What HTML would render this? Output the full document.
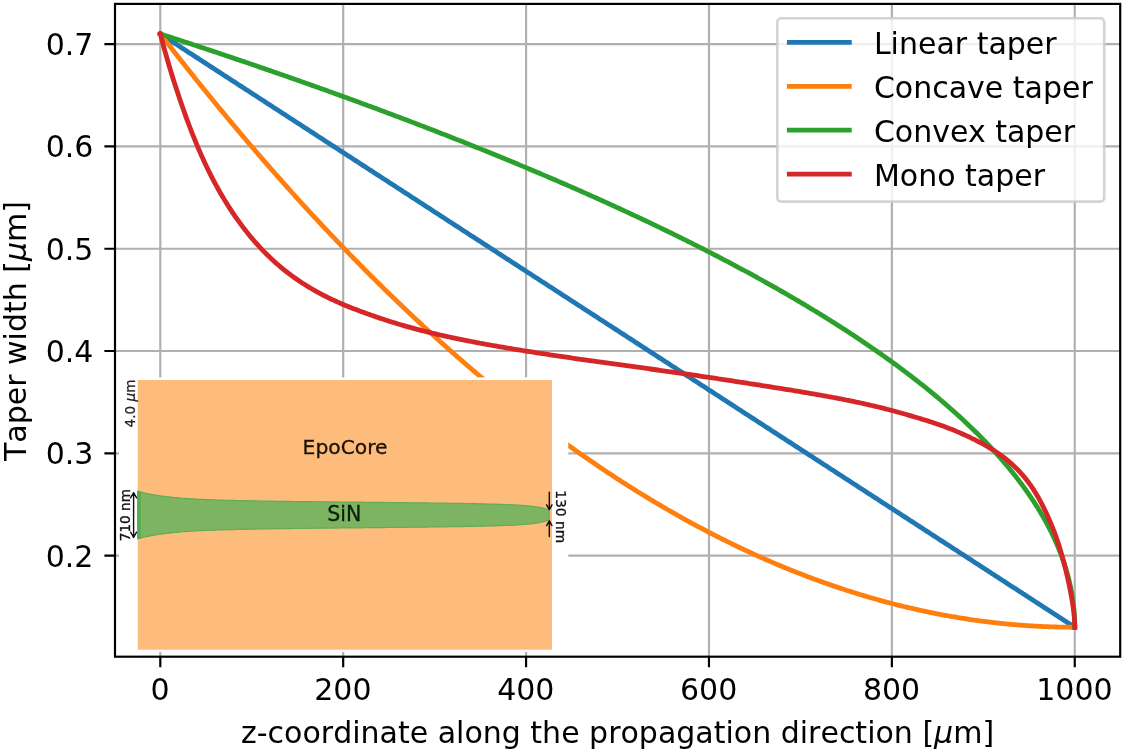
<!DOCTYPE html>
<html lang="en"><head><meta charset="utf-8"><title>Taper width profiles</title>
<style>html,body{margin:0;padding:0;background:#fff}body{width:1124px;height:752px;overflow:hidden}</style>
</head><body>
<svg width="1124" height="752" viewBox="0 0 1124 752" font-family='"DejaVu Sans", "Liberation Sans", sans-serif' style="display:block">
<rect width="1124" height="752" fill="#fff"/>
<defs><clipPath id="ax"><rect x="115.0" y="3.9" width="1005.2" height="652.8000000000001"/></clipPath></defs>
<path d="M160.30,3.9 V656.7 M343.19,3.9 V656.7 M526.08,3.9 V656.7 M708.97,3.9 V656.7 M891.86,3.9 V656.7 M1074.75,3.9 V656.7 M115.0,555.63 H1120.2 M115.0,453.33 H1120.2 M115.0,351.03 H1120.2 M115.0,248.73 H1120.2 M115.0,146.43 H1120.2 M115.0,44.13 H1120.2" stroke="#b0b0b0" stroke-width="2.18" fill="none"/>
<g clip-path="url(#ax)" fill="none" stroke-linejoin="round" stroke-linecap="square">
<path d="M160.30,33.90 L162.13,35.09 L163.96,36.27 L165.79,37.46 L167.62,38.65 L169.44,39.83 L171.27,41.02 L173.10,42.21 L174.93,43.39 L176.76,44.58 L178.59,45.77 L180.42,46.95 L182.25,48.14 L184.08,49.33 L185.90,50.51 L187.73,51.70 L189.56,52.89 L191.39,54.07 L193.22,55.26 L195.05,56.45 L196.88,57.63 L198.71,58.82 L200.54,60.01 L202.36,61.19 L204.19,62.38 L206.02,63.57 L207.85,64.75 L209.68,65.94 L211.51,67.13 L213.34,68.31 L215.17,69.50 L217.00,70.69 L218.82,71.87 L220.65,73.06 L222.48,74.25 L224.31,75.43 L226.14,76.62 L227.97,77.81 L229.80,78.99 L231.63,80.18 L233.46,81.37 L235.28,82.55 L237.11,83.74 L238.94,84.93 L240.77,86.11 L242.60,87.30 L244.43,88.49 L246.26,89.67 L248.09,90.86 L249.92,92.05 L251.75,93.23 L253.57,94.42 L255.40,95.61 L257.23,96.79 L259.06,97.98 L260.89,99.17 L262.72,100.35 L264.55,101.54 L266.38,102.73 L268.21,103.91 L270.03,105.10 L271.86,106.29 L273.69,107.47 L275.52,108.66 L277.35,109.85 L279.18,111.03 L281.01,112.22 L282.84,113.41 L284.67,114.59 L286.49,115.78 L288.32,116.97 L290.15,118.15 L291.98,119.34 L293.81,120.53 L295.64,121.71 L297.47,122.90 L299.30,124.09 L301.13,125.27 L302.95,126.46 L304.78,127.65 L306.61,128.83 L308.44,130.02 L310.27,131.21 L312.10,132.39 L313.93,133.58 L315.76,134.77 L317.59,135.95 L319.41,137.14 L321.24,138.33 L323.07,139.51 L324.90,140.70 L326.73,141.89 L328.56,143.07 L330.39,144.26 L332.22,145.45 L334.05,146.63 L335.87,147.82 L337.70,149.01 L339.53,150.19 L341.36,151.38 L343.19,152.57 L345.02,153.75 L346.85,154.94 L348.68,156.13 L350.51,157.31 L352.33,158.50 L354.16,159.69 L355.99,160.87 L357.82,162.06 L359.65,163.25 L361.48,164.43 L363.31,165.62 L365.14,166.81 L366.97,167.99 L368.79,169.18 L370.62,170.37 L372.45,171.55 L374.28,172.74 L376.11,173.93 L377.94,175.11 L379.77,176.30 L381.60,177.49 L383.43,178.67 L385.25,179.86 L387.08,181.05 L388.91,182.24 L390.74,183.42 L392.57,184.61 L394.40,185.80 L396.23,186.98 L398.06,188.17 L399.89,189.36 L401.71,190.54 L403.54,191.73 L405.37,192.92 L407.20,194.10 L409.03,195.29 L410.86,196.48 L412.69,197.66 L414.52,198.85 L416.35,200.04 L418.17,201.22 L420.00,202.41 L421.83,203.60 L423.66,204.78 L425.49,205.97 L427.32,207.16 L429.15,208.34 L430.98,209.53 L432.81,210.72 L434.63,211.90 L436.46,213.09 L438.29,214.28 L440.12,215.46 L441.95,216.65 L443.78,217.84 L445.61,219.02 L447.44,220.21 L449.27,221.40 L451.10,222.58 L452.92,223.77 L454.75,224.96 L456.58,226.14 L458.41,227.33 L460.24,228.52 L462.07,229.70 L463.90,230.89 L465.73,232.08 L467.56,233.26 L469.38,234.45 L471.21,235.64 L473.04,236.82 L474.87,238.01 L476.70,239.20 L478.53,240.38 L480.36,241.57 L482.19,242.76 L484.02,243.94 L485.84,245.13 L487.67,246.32 L489.50,247.50 L491.33,248.69 L493.16,249.88 L494.99,251.06 L496.82,252.25 L498.65,253.44 L500.48,254.62 L502.30,255.81 L504.13,257.00 L505.96,258.18 L507.79,259.37 L509.62,260.56 L511.45,261.74 L513.28,262.93 L515.11,264.12 L516.94,265.30 L518.76,266.49 L520.59,267.68 L522.42,268.86 L524.25,270.05 L526.08,271.24 L527.91,272.42 L529.74,273.61 L531.57,274.80 L533.40,275.98 L535.22,277.17 L537.05,278.36 L538.88,279.54 L540.71,280.73 L542.54,281.92 L544.37,283.10 L546.20,284.29 L548.03,285.48 L549.86,286.66 L551.68,287.85 L553.51,289.04 L555.34,290.22 L557.17,291.41 L559.00,292.60 L560.83,293.78 L562.66,294.97 L564.49,296.16 L566.32,297.34 L568.14,298.53 L569.97,299.72 L571.80,300.90 L573.63,302.09 L575.46,303.28 L577.29,304.46 L579.12,305.65 L580.95,306.84 L582.78,308.02 L584.60,309.21 L586.43,310.40 L588.26,311.58 L590.09,312.77 L591.92,313.96 L593.75,315.14 L595.58,316.33 L597.41,317.52 L599.24,318.70 L601.06,319.89 L602.89,321.08 L604.72,322.26 L606.55,323.45 L608.38,324.64 L610.21,325.82 L612.04,327.01 L613.87,328.20 L615.70,329.38 L617.52,330.57 L619.35,331.76 L621.18,332.94 L623.01,334.13 L624.84,335.32 L626.67,336.50 L628.50,337.69 L630.33,338.88 L632.16,340.06 L633.99,341.25 L635.81,342.44 L637.64,343.62 L639.47,344.81 L641.30,346.00 L643.13,347.18 L644.96,348.37 L646.79,349.56 L648.62,350.74 L650.45,351.93 L652.27,353.12 L654.10,354.30 L655.93,355.49 L657.76,356.68 L659.59,357.86 L661.42,359.05 L663.25,360.24 L665.08,361.42 L666.91,362.61 L668.73,363.80 L670.56,364.98 L672.39,366.17 L674.22,367.36 L676.05,368.54 L677.88,369.73 L679.71,370.92 L681.54,372.10 L683.37,373.29 L685.19,374.48 L687.02,375.66 L688.85,376.85 L690.68,378.04 L692.51,379.22 L694.34,380.41 L696.17,381.60 L698.00,382.78 L699.83,383.97 L701.65,385.16 L703.48,386.34 L705.31,387.53 L707.14,388.72 L708.97,389.90 L710.80,391.09 L712.63,392.28 L714.46,393.46 L716.29,394.65 L718.11,395.84 L719.94,397.02 L721.77,398.21 L723.60,399.40 L725.43,400.58 L727.26,401.77 L729.09,402.96 L730.92,404.14 L732.75,405.33 L734.57,406.52 L736.40,407.70 L738.23,408.89 L740.06,410.08 L741.89,411.26 L743.72,412.45 L745.55,413.64 L747.38,414.82 L749.21,416.01 L751.03,417.20 L752.86,418.38 L754.69,419.57 L756.52,420.76 L758.35,421.94 L760.18,423.13 L762.01,424.32 L763.84,425.50 L765.67,426.69 L767.49,427.88 L769.32,429.06 L771.15,430.25 L772.98,431.44 L774.81,432.62 L776.64,433.81 L778.47,435.00 L780.30,436.18 L782.13,437.37 L783.95,438.56 L785.78,439.74 L787.61,440.93 L789.44,442.12 L791.27,443.30 L793.10,444.49 L794.93,445.68 L796.76,446.86 L798.59,448.05 L800.41,449.24 L802.24,450.42 L804.07,451.61 L805.90,452.80 L807.73,453.98 L809.56,455.17 L811.39,456.36 L813.22,457.54 L815.05,458.73 L816.88,459.92 L818.70,461.10 L820.53,462.29 L822.36,463.48 L824.19,464.66 L826.02,465.85 L827.85,467.04 L829.68,468.22 L831.51,469.41 L833.34,470.60 L835.16,471.78 L836.99,472.97 L838.82,474.16 L840.65,475.34 L842.48,476.53 L844.31,477.72 L846.14,478.90 L847.97,480.09 L849.80,481.28 L851.62,482.47 L853.45,483.65 L855.28,484.84 L857.11,486.03 L858.94,487.21 L860.77,488.40 L862.60,489.59 L864.43,490.77 L866.26,491.96 L868.08,493.15 L869.91,494.33 L871.74,495.52 L873.57,496.71 L875.40,497.89 L877.23,499.08 L879.06,500.27 L880.89,501.45 L882.72,502.64 L884.54,503.83 L886.37,505.01 L888.20,506.20 L890.03,507.39 L891.86,508.57 L893.69,509.76 L895.52,510.95 L897.35,512.13 L899.18,513.32 L901.00,514.51 L902.83,515.69 L904.66,516.88 L906.49,518.07 L908.32,519.25 L910.15,520.44 L911.98,521.63 L913.81,522.81 L915.64,524.00 L917.46,525.19 L919.29,526.37 L921.12,527.56 L922.95,528.75 L924.78,529.93 L926.61,531.12 L928.44,532.31 L930.27,533.49 L932.10,534.68 L933.92,535.87 L935.75,537.05 L937.58,538.24 L939.41,539.43 L941.24,540.61 L943.07,541.80 L944.90,542.99 L946.73,544.17 L948.56,545.36 L950.38,546.55 L952.21,547.73 L954.04,548.92 L955.87,550.11 L957.70,551.29 L959.53,552.48 L961.36,553.67 L963.19,554.85 L965.02,556.04 L966.84,557.23 L968.67,558.41 L970.50,559.60 L972.33,560.79 L974.16,561.97 L975.99,563.16 L977.82,564.35 L979.65,565.53 L981.48,566.72 L983.31,567.91 L983.76,568.20 L984.22,568.50 L984.67,568.79 L985.13,569.09 L985.58,569.38 L986.03,569.68 L986.49,569.97 L986.94,570.26 L987.38,570.55 L987.83,570.84 L988.28,571.13 L988.72,571.42 L989.17,571.71 L989.61,572.00 L990.05,572.28 L990.49,572.57 L990.93,572.85 L991.37,573.14 L991.81,573.42 L992.24,573.71 L992.68,573.99 L993.11,574.27 L993.54,574.55 L993.98,574.83 L994.41,575.11 L994.83,575.39 L995.26,575.66 L995.69,575.94 L996.11,576.22 L996.54,576.49 L996.96,576.77 L997.38,577.04 L997.81,577.31 L998.23,577.59 L998.64,577.86 L999.06,578.13 L999.48,578.40 L999.89,578.67 L1000.31,578.94 L1000.72,579.21 L1001.13,579.47 L1001.54,579.74 L1001.95,580.01 L1002.36,580.27 L1002.77,580.53 L1003.17,580.80 L1003.58,581.06 L1003.98,581.32 L1004.39,581.58 L1004.79,581.84 L1005.19,582.10 L1005.59,582.36 L1005.99,582.62 L1006.38,582.88 L1006.78,583.14 L1007.17,583.39 L1007.57,583.65 L1007.96,583.90 L1008.35,584.16 L1008.74,584.41 L1009.13,584.66 L1009.52,584.91 L1009.90,585.16 L1010.29,585.41 L1010.67,585.66 L1011.06,585.91 L1011.44,586.16 L1011.82,586.41 L1012.20,586.65 L1012.58,586.90 L1012.95,587.14 L1013.33,587.39 L1013.71,587.63 L1014.08,587.87 L1014.45,588.12 L1014.82,588.36 L1015.19,588.60 L1015.56,588.84 L1015.93,589.08 L1016.30,589.31 L1016.66,589.55 L1017.03,589.79 L1017.39,590.02 L1017.76,590.26 L1018.12,590.49 L1018.48,590.73 L1018.84,590.96 L1019.19,591.19 L1019.55,591.42 L1019.91,591.65 L1020.26,591.88 L1020.61,592.11 L1020.97,592.34 L1021.32,592.57 L1021.67,592.80 L1022.01,593.02 L1022.36,593.25 L1022.71,593.47 L1023.05,593.70 L1023.40,593.92 L1023.74,594.14 L1024.08,594.36 L1024.42,594.59 L1024.76,594.81 L1025.10,595.03 L1025.44,595.24 L1025.77,595.46 L1026.11,595.68 L1026.44,595.90 L1026.78,596.11 L1027.11,596.33 L1027.44,596.54 L1027.77,596.75 L1028.09,596.97 L1028.42,597.18 L1028.75,597.39 L1029.07,597.60 L1029.39,597.81 L1029.72,598.02 L1030.04,598.23 L1030.36,598.44 L1030.68,598.64 L1030.99,598.85 L1031.31,599.05 L1031.63,599.26 L1031.94,599.46 L1032.25,599.67 L1032.57,599.87 L1032.88,600.07 L1033.19,600.27 L1033.49,600.47 L1033.80,600.67 L1034.11,600.87 L1034.41,601.07 L1034.72,601.26 L1035.02,601.46 L1035.32,601.66 L1035.62,601.85 L1035.92,602.05 L1036.22,602.24 L1036.52,602.43 L1036.81,602.62 L1037.11,602.81 L1037.40,603.01 L1037.69,603.19 L1037.98,603.38 L1038.27,603.57 L1038.56,603.76 L1038.85,603.95 L1039.14,604.13 L1039.42,604.32 L1039.71,604.50 L1039.99,604.69 L1040.27,604.87 L1040.55,605.05 L1040.83,605.23 L1041.11,605.41 L1041.39,605.59 L1041.66,605.77 L1041.94,605.95 L1042.21,606.13 L1042.49,606.31 L1042.76,606.48 L1043.03,606.66 L1043.30,606.83 L1043.57,607.01 L1043.83,607.18 L1044.10,607.35 L1044.36,607.52 L1044.63,607.70 L1044.89,607.87 L1045.15,608.04 L1045.41,608.20 L1045.67,608.37 L1045.93,608.54 L1046.19,608.71 L1046.44,608.87 L1046.70,609.04 L1046.95,609.20 L1047.20,609.36 L1047.45,609.53 L1047.70,609.69 L1047.95,609.85 L1048.20,610.01 L1048.44,610.17 L1048.69,610.33 L1048.93,610.49 L1049.18,610.65 L1049.42,610.80 L1049.66,610.96 L1049.90,611.12 L1050.14,611.27 L1050.37,611.42 L1050.61,611.58 L1050.85,611.73 L1051.08,611.88 L1051.31,612.03 L1051.54,612.18 L1051.77,612.33 L1052.00,612.48 L1052.23,612.63 L1052.46,612.78 L1052.68,612.92 L1052.91,613.07 L1053.13,613.21 L1053.35,613.36 L1053.58,613.50 L1053.80,613.64 L1054.01,613.79 L1054.23,613.93 L1054.45,614.07 L1054.66,614.21 L1054.88,614.35 L1055.09,614.48 L1055.30,614.62 L1055.51,614.76 L1055.72,614.89 L1055.93,615.03 L1056.14,615.16 L1056.35,615.30 L1056.55,615.43 L1056.75,615.56 L1056.96,615.70 L1057.16,615.83 L1057.36,615.96 L1057.56,616.09 L1057.76,616.21 L1057.95,616.34 L1058.15,616.47 L1058.34,616.60 L1058.54,616.72 L1058.73,616.85 L1058.92,616.97 L1059.11,617.09 L1059.30,617.22 L1059.49,617.34 L1059.68,617.46 L1059.86,617.58 L1060.05,617.70 L1060.23,617.82 L1060.41,617.94 L1060.59,618.05 L1060.77,618.17 L1060.95,618.29 L1061.13,618.40 L1061.30,618.52 L1061.48,618.63 L1061.65,618.74 L1061.83,618.85 L1062.00,618.97 L1062.17,619.08 L1062.34,619.19 L1062.51,619.30 L1062.67,619.40 L1062.84,619.51 L1063.00,619.62 L1063.17,619.72 L1063.33,619.83 L1063.49,619.94 L1063.65,620.04 L1063.81,620.14 L1063.97,620.24 L1064.13,620.35 L1064.28,620.45 L1064.44,620.55 L1064.59,620.65 L1064.74,620.75 L1064.89,620.84 L1065.04,620.94 L1065.19,621.04 L1065.34,621.13 L1065.49,621.23 L1065.63,621.32 L1065.78,621.42 L1065.92,621.51 L1066.06,621.60 L1066.20,621.69 L1066.34,621.78 L1066.48,621.87 L1066.62,621.96 L1066.75,622.05 L1066.89,622.14 L1067.02,622.22 L1067.15,622.31 L1067.29,622.40 L1067.42,622.48 L1067.54,622.56 L1067.67,622.65 L1067.80,622.73 L1067.93,622.81 L1068.05,622.89 L1068.17,622.97 L1068.30,623.05 L1068.42,623.13 L1068.54,623.21 L1068.66,623.29 L1068.77,623.36 L1068.89,623.44 L1069.01,623.51 L1069.12,623.59 L1069.23,623.66 L1069.35,623.73 L1069.46,623.81 L1069.57,623.88 L1069.67,623.95 L1069.78,624.02 L1069.89,624.09 L1069.99,624.15 L1070.10,624.22 L1070.20,624.29 L1070.30,624.35 L1070.40,624.42 L1070.50,624.48 L1070.60,624.55 L1070.70,624.61 L1070.79,624.67 L1070.89,624.73 L1070.98,624.79 L1071.07,624.85 L1071.17,624.91 L1071.26,624.97 L1071.34,625.03 L1071.43,625.09 L1071.52,625.14 L1071.60,625.20 L1071.69,625.25 L1071.77,625.31 L1071.85,625.36 L1071.94,625.41 L1072.02,625.47 L1072.09,625.52 L1072.17,625.57 L1072.25,625.62 L1072.32,625.67 L1072.40,625.71 L1072.47,625.76 L1072.54,625.81 L1072.61,625.85 L1072.68,625.90 L1072.75,625.94 L1072.82,625.99 L1072.88,626.03 L1072.95,626.07 L1073.01,626.11 L1073.08,626.15 L1073.14,626.19 L1073.20,626.23 L1073.26,626.27 L1073.31,626.31 L1073.37,626.35 L1073.43,626.38 L1073.48,626.42 L1073.53,626.45 L1073.59,626.49 L1073.64,626.52 L1073.69,626.55 L1073.74,626.58 L1073.78,626.61 L1073.83,626.64 L1073.88,626.67 L1073.92,626.70 L1073.96,626.73 L1074.01,626.76 L1074.05,626.78 L1074.09,626.81 L1074.12,626.83 L1074.16,626.86 L1074.20,626.88 L1074.23,626.90 L1074.27,626.93 L1074.30,626.95 L1074.33,626.97 L1074.36,626.99 L1074.39,627.01 L1074.42,627.03 L1074.45,627.04 L1074.47,627.06 L1074.50,627.08 L1074.52,627.09 L1074.54,627.11 L1074.56,627.12 L1074.58,627.13 L1074.60,627.14 L1074.62,627.16 L1074.64,627.17 L1074.65,627.18 L1074.67,627.19 L1074.68,627.19 L1074.69,627.20 L1074.70,627.21 L1074.71,627.22 L1074.72,627.22 L1074.73,627.23 L1074.74,627.23 L1074.74,627.23 L1074.74,627.24 L1074.75,627.24 L1074.75,627.24 L1074.75,627.24" stroke="#1f77b4" stroke-width="4.80"/>
<path d="M160.30,33.90 L162.13,36.27 L163.96,38.64 L165.79,41.00 L167.62,43.36 L169.44,45.71 L171.27,48.05 L173.10,50.40 L174.93,52.73 L176.76,55.07 L178.59,57.40 L180.42,59.72 L182.25,62.04 L184.08,64.35 L185.90,66.66 L187.73,68.97 L189.56,71.27 L191.39,73.56 L193.22,75.85 L195.05,78.14 L196.88,80.42 L198.71,82.69 L200.54,84.97 L202.36,87.23 L204.19,89.49 L206.02,91.75 L207.85,94.00 L209.68,96.25 L211.51,98.49 L213.34,100.73 L215.17,102.96 L217.00,105.19 L218.82,107.42 L220.65,109.64 L222.48,111.85 L224.31,114.06 L226.14,116.27 L227.97,118.47 L229.80,120.66 L231.63,122.85 L233.46,125.04 L235.28,127.22 L237.11,129.39 L238.94,131.57 L240.77,133.73 L242.60,135.90 L244.43,138.05 L246.26,140.21 L248.09,142.35 L249.92,144.50 L251.75,146.63 L253.57,148.77 L255.40,150.90 L257.23,153.02 L259.06,155.14 L260.89,157.26 L262.72,159.37 L264.55,161.47 L266.38,163.57 L268.21,165.67 L270.03,167.76 L271.86,169.84 L273.69,171.93 L275.52,174.00 L277.35,176.07 L279.18,178.14 L281.01,180.20 L282.84,182.26 L284.67,184.31 L286.49,186.36 L288.32,188.41 L290.15,190.44 L291.98,192.48 L293.81,194.51 L295.64,196.53 L297.47,198.55 L299.30,200.57 L301.13,202.58 L302.95,204.58 L304.78,206.58 L306.61,208.58 L308.44,210.57 L310.27,212.56 L312.10,214.54 L313.93,216.52 L315.76,218.49 L317.59,220.46 L319.41,222.42 L321.24,224.38 L323.07,226.33 L324.90,228.28 L326.73,230.22 L328.56,232.16 L330.39,234.10 L332.22,236.02 L334.05,237.95 L335.87,239.87 L337.70,241.78 L339.53,243.70 L341.36,245.60 L343.19,247.50 L345.02,249.40 L346.85,251.29 L348.68,253.18 L350.51,255.06 L352.33,256.94 L354.16,258.81 L355.99,260.68 L357.82,262.54 L359.65,264.40 L361.48,266.25 L363.31,268.10 L365.14,269.94 L366.97,271.78 L368.79,273.62 L370.62,275.45 L372.45,277.27 L374.28,279.09 L376.11,280.91 L377.94,282.72 L379.77,284.53 L381.60,286.33 L383.43,288.12 L385.25,289.92 L387.08,291.70 L388.91,293.49 L390.74,295.26 L392.57,297.04 L394.40,298.80 L396.23,300.57 L398.06,302.33 L399.89,304.08 L401.71,305.83 L403.54,307.57 L405.37,309.31 L407.20,311.05 L409.03,312.78 L410.86,314.50 L412.69,316.23 L414.52,317.94 L416.35,319.65 L418.17,321.36 L420.00,323.06 L421.83,324.76 L423.66,326.45 L425.49,328.14 L427.32,329.82 L429.15,331.50 L430.98,333.17 L432.81,334.84 L434.63,336.50 L436.46,338.16 L438.29,339.82 L440.12,341.47 L441.95,343.11 L443.78,344.75 L445.61,346.39 L447.44,348.02 L449.27,349.64 L451.10,351.26 L452.92,352.88 L454.75,354.49 L456.58,356.10 L458.41,357.70 L460.24,359.30 L462.07,360.89 L463.90,362.48 L465.73,364.06 L467.56,365.64 L469.38,367.21 L471.21,368.78 L473.04,370.35 L474.87,371.90 L476.70,373.46 L478.53,375.01 L480.36,376.55 L482.19,378.09 L484.02,379.63 L485.84,381.16 L487.67,382.69 L489.50,384.21 L491.33,385.72 L493.16,387.24 L494.99,388.74 L496.82,390.25 L498.65,391.74 L500.48,393.24 L502.30,394.72 L504.13,396.21 L505.96,397.69 L507.79,399.16 L509.62,400.63 L511.45,402.09 L513.28,403.55 L515.11,405.01 L516.94,406.46 L518.76,407.90 L520.59,409.34 L522.42,410.78 L524.25,412.21 L526.08,413.64 L527.91,415.06 L529.74,416.48 L531.57,417.89 L533.40,419.30 L535.22,420.70 L537.05,422.10 L538.88,423.49 L540.71,424.88 L542.54,426.26 L544.37,427.64 L546.20,429.01 L548.03,430.38 L549.86,431.75 L551.68,433.11 L553.51,434.46 L555.34,435.81 L557.17,437.16 L559.00,438.50 L560.83,439.84 L562.66,441.17 L564.49,442.50 L566.32,443.82 L568.14,445.13 L569.97,446.45 L571.80,447.75 L573.63,449.06 L575.46,450.36 L577.29,451.65 L579.12,452.94 L580.95,454.22 L582.78,455.50 L584.60,456.78 L586.43,458.05 L588.26,459.31 L590.09,460.57 L591.92,461.83 L593.75,463.08 L595.58,464.32 L597.41,465.56 L599.24,466.80 L601.06,468.03 L602.89,469.26 L604.72,470.48 L606.55,471.70 L608.38,472.91 L610.21,474.12 L612.04,475.32 L613.87,476.52 L615.70,477.72 L617.52,478.90 L619.35,480.09 L621.18,481.27 L623.01,482.44 L624.84,483.61 L626.67,484.78 L628.50,485.94 L630.33,487.10 L632.16,488.25 L633.99,489.39 L635.81,490.53 L637.64,491.67 L639.47,492.80 L641.30,493.93 L643.13,495.05 L644.96,496.17 L646.79,497.28 L648.62,498.39 L650.45,499.50 L652.27,500.60 L654.10,501.69 L655.93,502.78 L657.76,503.86 L659.59,504.94 L661.42,506.02 L663.25,507.09 L665.08,508.15 L666.91,509.22 L668.73,510.27 L670.56,511.32 L672.39,512.37 L674.22,513.41 L676.05,514.45 L677.88,515.48 L679.71,516.51 L681.54,517.53 L683.37,518.55 L685.19,519.56 L687.02,520.57 L688.85,521.58 L690.68,522.57 L692.51,523.57 L694.34,524.56 L696.17,525.54 L698.00,526.52 L699.83,527.50 L701.65,528.47 L703.48,529.44 L705.31,530.40 L707.14,531.35 L708.97,532.31 L710.80,533.25 L712.63,534.19 L714.46,535.13 L716.29,536.07 L718.11,536.99 L719.94,537.92 L721.77,538.83 L723.60,539.75 L725.43,540.66 L727.26,541.56 L729.09,542.46 L730.92,543.36 L732.75,544.25 L734.57,545.13 L736.40,546.01 L738.23,546.89 L740.06,547.76 L741.89,548.62 L743.72,549.49 L745.55,550.34 L747.38,551.20 L749.21,552.04 L751.03,552.89 L752.86,553.72 L754.69,554.56 L756.52,555.38 L758.35,556.21 L760.18,557.03 L762.01,557.84 L763.84,558.65 L765.67,559.45 L767.49,560.25 L769.32,561.05 L771.15,561.84 L772.98,562.63 L774.81,563.41 L776.64,564.18 L778.47,564.95 L780.30,565.72 L782.13,566.48 L783.95,567.24 L785.78,567.99 L787.61,568.74 L789.44,569.48 L791.27,570.22 L793.10,570.95 L794.93,571.68 L796.76,572.41 L798.59,573.13 L800.41,573.84 L802.24,574.55 L804.07,575.25 L805.90,575.95 L807.73,576.65 L809.56,577.34 L811.39,578.03 L813.22,578.71 L815.05,579.38 L816.88,580.06 L818.70,580.72 L820.53,581.38 L822.36,582.04 L824.19,582.69 L826.02,583.34 L827.85,583.99 L829.68,584.62 L831.51,585.26 L833.34,585.89 L835.16,586.51 L836.99,587.13 L838.82,587.74 L840.65,588.35 L842.48,588.96 L844.31,589.56 L846.14,590.16 L847.97,590.75 L849.80,591.33 L851.62,591.91 L853.45,592.49 L855.28,593.06 L857.11,593.63 L858.94,594.19 L860.77,594.75 L862.60,595.30 L864.43,595.85 L866.26,596.40 L868.08,596.93 L869.91,597.47 L871.74,598.00 L873.57,598.52 L875.40,599.04 L877.23,599.56 L879.06,600.07 L880.89,600.57 L882.72,601.07 L884.54,601.57 L886.37,602.06 L888.20,602.55 L890.03,603.03 L891.86,603.51 L893.69,603.98 L895.52,604.45 L897.35,604.91 L899.18,605.37 L901.00,605.82 L902.83,606.27 L904.66,606.71 L906.49,607.15 L908.32,607.59 L910.15,608.02 L911.98,608.44 L913.81,608.86 L915.64,609.28 L917.46,609.69 L919.29,610.09 L921.12,610.49 L922.95,610.89 L924.78,611.28 L926.61,611.67 L928.44,612.05 L930.27,612.43 L932.10,612.80 L933.92,613.17 L935.75,613.53 L937.58,613.89 L939.41,614.24 L941.24,614.59 L943.07,614.94 L944.90,615.28 L946.73,615.61 L948.56,615.94 L950.38,616.27 L952.21,616.59 L954.04,616.90 L955.87,617.21 L957.70,617.52 L959.53,617.82 L961.36,618.12 L963.19,618.41 L965.02,618.70 L966.84,618.98 L968.67,619.26 L970.50,619.53 L972.33,619.80 L974.16,620.06 L975.99,620.32 L977.82,620.57 L979.65,620.82 L981.48,621.07 L983.31,621.31 L983.76,621.37 L984.22,621.42 L984.67,621.48 L985.13,621.54 L985.58,621.60 L986.03,621.66 L986.49,621.71 L986.94,621.77 L987.38,621.82 L987.83,621.88 L988.28,621.93 L988.72,621.99 L989.17,622.04 L989.61,622.10 L990.05,622.15 L990.49,622.20 L990.93,622.25 L991.37,622.31 L991.81,622.36 L992.24,622.41 L992.68,622.46 L993.11,622.51 L993.54,622.56 L993.98,622.61 L994.41,622.66 L994.83,622.71 L995.26,622.76 L995.69,622.80 L996.11,622.85 L996.54,622.90 L996.96,622.95 L997.38,622.99 L997.81,623.04 L998.23,623.08 L998.64,623.13 L999.06,623.18 L999.48,623.22 L999.89,623.26 L1000.31,623.31 L1000.72,623.35 L1001.13,623.39 L1001.54,623.44 L1001.95,623.48 L1002.36,623.52 L1002.77,623.56 L1003.17,623.60 L1003.58,623.65 L1003.98,623.69 L1004.39,623.73 L1004.79,623.77 L1005.19,623.81 L1005.59,623.85 L1005.99,623.88 L1006.38,623.92 L1006.78,623.96 L1007.17,624.00 L1007.57,624.04 L1007.96,624.07 L1008.35,624.11 L1008.74,624.15 L1009.13,624.18 L1009.52,624.22 L1009.90,624.26 L1010.29,624.29 L1010.67,624.33 L1011.06,624.36 L1011.44,624.40 L1011.82,624.43 L1012.20,624.46 L1012.58,624.50 L1012.95,624.53 L1013.33,624.56 L1013.71,624.60 L1014.08,624.63 L1014.45,624.66 L1014.82,624.69 L1015.19,624.72 L1015.56,624.75 L1015.93,624.79 L1016.30,624.82 L1016.66,624.85 L1017.03,624.88 L1017.39,624.91 L1017.76,624.94 L1018.12,624.96 L1018.48,624.99 L1018.84,625.02 L1019.19,625.05 L1019.55,625.08 L1019.91,625.11 L1020.26,625.13 L1020.61,625.16 L1020.97,625.19 L1021.32,625.21 L1021.67,625.24 L1022.01,625.27 L1022.36,625.29 L1022.71,625.32 L1023.05,625.34 L1023.40,625.37 L1023.74,625.39 L1024.08,625.42 L1024.42,625.44 L1024.76,625.47 L1025.10,625.49 L1025.44,625.51 L1025.77,625.54 L1026.11,625.56 L1026.44,625.58 L1026.78,625.61 L1027.11,625.63 L1027.44,625.65 L1027.77,625.67 L1028.09,625.70 L1028.42,625.72 L1028.75,625.74 L1029.07,625.76 L1029.39,625.78 L1029.72,625.80 L1030.04,625.82 L1030.36,625.84 L1030.68,625.86 L1030.99,625.88 L1031.31,625.90 L1031.63,625.92 L1031.94,625.94 L1032.25,625.96 L1032.57,625.98 L1032.88,626.00 L1033.19,626.01 L1033.49,626.03 L1033.80,626.05 L1034.11,626.07 L1034.41,626.09 L1034.72,626.10 L1035.02,626.12 L1035.32,626.14 L1035.62,626.15 L1035.92,626.17 L1036.22,626.19 L1036.52,626.20 L1036.81,626.22 L1037.11,626.23 L1037.40,626.25 L1037.69,626.27 L1037.98,626.28 L1038.27,626.30 L1038.56,626.31 L1038.85,626.33 L1039.14,626.34 L1039.42,626.35 L1039.71,626.37 L1039.99,626.38 L1040.27,626.40 L1040.55,626.41 L1040.83,626.42 L1041.11,626.44 L1041.39,626.45 L1041.66,626.46 L1041.94,626.48 L1042.21,626.49 L1042.49,626.50 L1042.76,626.51 L1043.03,626.53 L1043.30,626.54 L1043.57,626.55 L1043.83,626.56 L1044.10,626.57 L1044.36,626.58 L1044.63,626.60 L1044.89,626.61 L1045.15,626.62 L1045.41,626.63 L1045.67,626.64 L1045.93,626.65 L1046.19,626.66 L1046.44,626.67 L1046.70,626.68 L1046.95,626.69 L1047.20,626.70 L1047.45,626.71 L1047.70,626.72 L1047.95,626.73 L1048.20,626.74 L1048.44,626.75 L1048.69,626.76 L1048.93,626.77 L1049.18,626.78 L1049.42,626.78 L1049.66,626.79 L1049.90,626.80 L1050.14,626.81 L1050.37,626.82 L1050.61,626.83 L1050.85,626.83 L1051.08,626.84 L1051.31,626.85 L1051.54,626.86 L1051.77,626.87 L1052.00,626.87 L1052.23,626.88 L1052.46,626.89 L1052.68,626.89 L1052.91,626.90 L1053.13,626.91 L1053.35,626.92 L1053.58,626.92 L1053.80,626.93 L1054.01,626.93 L1054.23,626.94 L1054.45,626.95 L1054.66,626.95 L1054.88,626.96 L1055.09,626.97 L1055.30,626.97 L1055.51,626.98 L1055.72,626.98 L1055.93,626.99 L1056.14,626.99 L1056.35,627.00 L1056.55,627.00 L1056.75,627.01 L1056.96,627.02 L1057.16,627.02 L1057.36,627.03 L1057.56,627.03 L1057.76,627.04 L1057.95,627.04 L1058.15,627.04 L1058.34,627.05 L1058.54,627.05 L1058.73,627.06 L1058.92,627.06 L1059.11,627.07 L1059.30,627.07 L1059.49,627.07 L1059.68,627.08 L1059.86,627.08 L1060.05,627.09 L1060.23,627.09 L1060.41,627.09 L1060.59,627.10 L1060.77,627.10 L1060.95,627.10 L1061.13,627.11 L1061.30,627.11 L1061.48,627.12 L1061.65,627.12 L1061.83,627.12 L1062.00,627.12 L1062.17,627.13 L1062.34,627.13 L1062.51,627.13 L1062.67,627.14 L1062.84,627.14 L1063.00,627.14 L1063.17,627.14 L1063.33,627.15 L1063.49,627.15 L1063.65,627.15 L1063.81,627.16 L1063.97,627.16 L1064.13,627.16 L1064.28,627.16 L1064.44,627.16 L1064.59,627.17 L1064.74,627.17 L1064.89,627.17 L1065.04,627.17 L1065.19,627.18 L1065.34,627.18 L1065.49,627.18 L1065.63,627.18 L1065.78,627.18 L1065.92,627.18 L1066.06,627.19 L1066.20,627.19 L1066.34,627.19 L1066.48,627.19 L1066.62,627.19 L1066.75,627.19 L1066.89,627.20 L1067.02,627.20 L1067.15,627.20 L1067.29,627.20 L1067.42,627.20 L1067.54,627.20 L1067.67,627.20 L1067.80,627.21 L1067.93,627.21 L1068.05,627.21 L1068.17,627.21 L1068.30,627.21 L1068.42,627.21 L1068.54,627.21 L1068.66,627.21 L1068.77,627.21 L1068.89,627.22 L1069.01,627.22 L1069.12,627.22 L1069.23,627.22 L1069.35,627.22 L1069.46,627.22 L1069.57,627.22 L1069.67,627.22 L1069.78,627.22 L1069.89,627.22 L1069.99,627.22 L1070.10,627.22 L1070.20,627.23 L1070.30,627.23 L1070.40,627.23 L1070.50,627.23 L1070.60,627.23 L1070.70,627.23 L1070.79,627.23 L1070.89,627.23 L1070.98,627.23 L1071.07,627.23 L1071.17,627.23 L1071.26,627.23 L1071.34,627.23 L1071.43,627.23 L1071.52,627.23 L1071.60,627.23 L1071.69,627.23 L1071.77,627.23 L1071.85,627.23 L1071.94,627.23 L1072.02,627.23 L1072.09,627.23 L1072.17,627.24 L1072.25,627.24 L1072.32,627.24 L1072.40,627.24 L1072.47,627.24 L1072.54,627.24 L1072.61,627.24 L1072.68,627.24 L1072.75,627.24 L1072.82,627.24 L1072.88,627.24 L1072.95,627.24 L1073.01,627.24 L1073.08,627.24 L1073.14,627.24 L1073.20,627.24 L1073.26,627.24 L1073.31,627.24 L1073.37,627.24 L1073.43,627.24 L1073.48,627.24 L1073.53,627.24 L1073.59,627.24 L1073.64,627.24 L1073.69,627.24 L1073.74,627.24 L1073.78,627.24 L1073.83,627.24 L1073.88,627.24 L1073.92,627.24 L1073.96,627.24 L1074.01,627.24 L1074.05,627.24 L1074.09,627.24 L1074.12,627.24 L1074.16,627.24 L1074.20,627.24 L1074.23,627.24 L1074.27,627.24 L1074.30,627.24 L1074.33,627.24 L1074.36,627.24 L1074.39,627.24 L1074.42,627.24 L1074.45,627.24 L1074.47,627.24 L1074.50,627.24 L1074.52,627.24 L1074.54,627.24 L1074.56,627.24 L1074.58,627.24 L1074.60,627.24 L1074.62,627.24 L1074.64,627.24 L1074.65,627.24 L1074.67,627.24 L1074.68,627.24 L1074.69,627.24 L1074.70,627.24 L1074.71,627.24 L1074.72,627.24 L1074.73,627.24 L1074.74,627.24 L1074.74,627.24 L1074.74,627.24 L1074.75,627.24 L1074.75,627.24 L1074.75,627.24" stroke="#ff7f0e" stroke-width="4.80"/>
<path d="M160.30,33.90 L162.13,34.49 L163.96,35.09 L165.79,35.68 L167.62,36.28 L169.44,36.87 L171.27,37.47 L173.10,38.07 L174.93,38.67 L176.76,39.26 L178.59,39.86 L180.42,40.46 L182.25,41.06 L184.08,41.66 L185.90,42.27 L187.73,42.87 L189.56,43.47 L191.39,44.07 L193.22,44.68 L195.05,45.28 L196.88,45.89 L198.71,46.49 L200.54,47.10 L202.36,47.71 L204.19,48.32 L206.02,48.92 L207.85,49.53 L209.68,50.14 L211.51,50.75 L213.34,51.36 L215.17,51.98 L217.00,52.59 L218.82,53.20 L220.65,53.81 L222.48,54.43 L224.31,55.04 L226.14,55.66 L227.97,56.28 L229.80,56.89 L231.63,57.51 L233.46,58.13 L235.28,58.75 L237.11,59.37 L238.94,59.99 L240.77,60.61 L242.60,61.23 L244.43,61.85 L246.26,62.48 L248.09,63.10 L249.92,63.72 L251.75,64.35 L253.57,64.97 L255.40,65.60 L257.23,66.23 L259.06,66.86 L260.89,67.48 L262.72,68.11 L264.55,68.74 L266.38,69.37 L268.21,70.01 L270.03,70.64 L271.86,71.27 L273.69,71.90 L275.52,72.54 L277.35,73.17 L279.18,73.81 L281.01,74.45 L282.84,75.08 L284.67,75.72 L286.49,76.36 L288.32,77.00 L290.15,77.64 L291.98,78.28 L293.81,78.92 L295.64,79.56 L297.47,80.21 L299.30,80.85 L301.13,81.50 L302.95,82.14 L304.78,82.79 L306.61,83.43 L308.44,84.08 L310.27,84.73 L312.10,85.38 L313.93,86.03 L315.76,86.68 L317.59,87.33 L319.41,87.99 L321.24,88.64 L323.07,89.29 L324.90,89.95 L326.73,90.60 L328.56,91.26 L330.39,91.92 L332.22,92.58 L334.05,93.23 L335.87,93.89 L337.70,94.55 L339.53,95.22 L341.36,95.88 L343.19,96.54 L345.02,97.20 L346.85,97.87 L348.68,98.53 L350.51,99.20 L352.33,99.87 L354.16,100.54 L355.99,101.20 L357.82,101.87 L359.65,102.54 L361.48,103.22 L363.31,103.89 L365.14,104.56 L366.97,105.24 L368.79,105.91 L370.62,106.59 L372.45,107.26 L374.28,107.94 L376.11,108.62 L377.94,109.30 L379.77,109.98 L381.60,110.66 L383.43,111.34 L385.25,112.02 L387.08,112.71 L388.91,113.39 L390.74,114.08 L392.57,114.76 L394.40,115.45 L396.23,116.14 L398.06,116.83 L399.89,117.52 L401.71,118.21 L403.54,118.90 L405.37,119.60 L407.20,120.29 L409.03,120.99 L410.86,121.68 L412.69,122.38 L414.52,123.08 L416.35,123.77 L418.17,124.47 L420.00,125.17 L421.83,125.88 L423.66,126.58 L425.49,127.28 L427.32,127.99 L429.15,128.69 L430.98,129.40 L432.81,130.11 L434.63,130.82 L436.46,131.53 L438.29,132.24 L440.12,132.95 L441.95,133.66 L443.78,134.37 L445.61,135.09 L447.44,135.81 L449.27,136.52 L451.10,137.24 L452.92,137.96 L454.75,138.68 L456.58,139.40 L458.41,140.12 L460.24,140.85 L462.07,141.57 L463.90,142.30 L465.73,143.02 L467.56,143.75 L469.38,144.48 L471.21,145.21 L473.04,145.94 L474.87,146.67 L476.70,147.40 L478.53,148.14 L480.36,148.87 L482.19,149.61 L484.02,150.35 L485.84,151.09 L487.67,151.83 L489.50,152.57 L491.33,153.31 L493.16,154.05 L494.99,154.80 L496.82,155.54 L498.65,156.29 L500.48,157.04 L502.30,157.79 L504.13,158.54 L505.96,159.29 L507.79,160.04 L509.62,160.80 L511.45,161.55 L513.28,162.31 L515.11,163.07 L516.94,163.83 L518.76,164.59 L520.59,165.35 L522.42,166.11 L524.25,166.88 L526.08,167.64 L527.91,168.41 L529.74,169.18 L531.57,169.94 L533.40,170.72 L535.22,171.49 L537.05,172.26 L538.88,173.03 L540.71,173.81 L542.54,174.59 L544.37,175.37 L546.20,176.15 L548.03,176.93 L549.86,177.71 L551.68,178.49 L553.51,179.28 L555.34,180.06 L557.17,180.85 L559.00,181.64 L560.83,182.43 L562.66,183.23 L564.49,184.02 L566.32,184.81 L568.14,185.61 L569.97,186.41 L571.80,187.21 L573.63,188.01 L575.46,188.81 L577.29,189.61 L579.12,190.42 L580.95,191.23 L582.78,192.03 L584.60,192.84 L586.43,193.65 L588.26,194.47 L590.09,195.28 L591.92,196.10 L593.75,196.92 L595.58,197.73 L597.41,198.55 L599.24,199.38 L601.06,200.20 L602.89,201.03 L604.72,201.85 L606.55,202.68 L608.38,203.51 L610.21,204.34 L612.04,205.18 L613.87,206.01 L615.70,206.85 L617.52,207.69 L619.35,208.53 L621.18,209.37 L623.01,210.21 L624.84,211.06 L626.67,211.90 L628.50,212.75 L630.33,213.60 L632.16,214.45 L633.99,215.31 L635.81,216.16 L637.64,217.02 L639.47,217.88 L641.30,218.74 L643.13,219.60 L644.96,220.47 L646.79,221.33 L648.62,222.20 L650.45,223.07 L652.27,223.94 L654.10,224.82 L655.93,225.69 L657.76,226.57 L659.59,227.45 L661.42,228.33 L663.25,229.22 L665.08,230.10 L666.91,230.99 L668.73,231.88 L670.56,232.77 L672.39,233.66 L674.22,234.56 L676.05,235.46 L677.88,236.36 L679.71,237.26 L681.54,238.16 L683.37,239.07 L685.19,239.97 L687.02,240.88 L688.85,241.80 L690.68,242.71 L692.51,243.63 L694.34,244.55 L696.17,245.47 L698.00,246.39 L699.83,247.32 L701.65,248.24 L703.48,249.17 L705.31,250.11 L707.14,251.04 L708.97,251.98 L710.80,252.92 L712.63,253.86 L714.46,254.80 L716.29,255.75 L718.11,256.70 L719.94,257.65 L721.77,258.60 L723.60,259.56 L725.43,260.52 L727.26,261.48 L729.09,262.44 L730.92,263.41 L732.75,264.38 L734.57,265.35 L736.40,266.33 L738.23,267.30 L740.06,268.28 L741.89,269.26 L743.72,270.25 L745.55,271.24 L747.38,272.23 L749.21,273.22 L751.03,274.22 L752.86,275.21 L754.69,276.22 L756.52,277.22 L758.35,278.23 L760.18,279.24 L762.01,280.25 L763.84,281.27 L765.67,282.29 L767.49,283.31 L769.32,284.33 L771.15,285.36 L772.98,286.39 L774.81,287.43 L776.64,288.46 L778.47,289.50 L780.30,290.55 L782.13,291.60 L783.95,292.65 L785.78,293.70 L787.61,294.76 L789.44,295.82 L791.27,296.88 L793.10,297.95 L794.93,299.02 L796.76,300.09 L798.59,301.17 L800.41,302.25 L802.24,303.34 L804.07,304.43 L805.90,305.52 L807.73,306.62 L809.56,307.72 L811.39,308.82 L813.22,309.93 L815.05,311.04 L816.88,312.15 L818.70,313.27 L820.53,314.40 L822.36,315.52 L824.19,316.66 L826.02,317.79 L827.85,318.93 L829.68,320.08 L831.51,321.22 L833.34,322.38 L835.16,323.53 L836.99,324.69 L838.82,325.86 L840.65,327.03 L842.48,328.21 L844.31,329.39 L846.14,330.57 L847.97,331.76 L849.80,332.95 L851.62,334.15 L853.45,335.36 L855.28,336.56 L857.11,337.78 L858.94,339.00 L860.77,340.22 L862.60,341.45 L864.43,342.68 L866.26,343.92 L868.08,345.17 L869.91,346.42 L871.74,347.68 L873.57,348.94 L875.40,350.21 L877.23,351.48 L879.06,352.76 L880.89,354.05 L882.72,355.34 L884.54,356.64 L886.37,357.94 L888.20,359.25 L890.03,360.57 L891.86,361.89 L893.69,363.22 L895.52,364.56 L897.35,365.90 L899.18,367.25 L901.00,368.61 L902.83,369.97 L904.66,371.35 L906.49,372.73 L908.32,374.11 L910.15,375.51 L911.98,376.91 L913.81,378.32 L915.64,379.74 L917.46,381.16 L919.29,382.60 L921.12,384.04 L922.95,385.49 L924.78,386.96 L926.61,388.43 L928.44,389.90 L930.27,391.39 L932.10,392.89 L933.92,394.40 L935.75,395.91 L937.58,397.44 L939.41,398.98 L941.24,400.53 L943.07,402.08 L944.90,403.65 L946.73,405.23 L948.56,406.82 L950.38,408.43 L952.21,410.04 L954.04,411.67 L955.87,413.31 L957.70,414.96 L959.53,416.63 L961.36,418.30 L963.19,420.00 L965.02,421.70 L966.84,423.42 L968.67,425.16 L970.50,426.91 L972.33,428.67 L974.16,430.45 L975.99,432.25 L977.82,434.06 L979.65,435.89 L981.48,437.74 L983.31,439.61 L983.76,440.08 L984.22,440.55 L984.67,441.02 L985.13,441.49 L985.58,441.96 L986.03,442.43 L986.49,442.90 L986.94,443.37 L987.38,443.84 L987.83,444.31 L988.28,444.78 L988.72,445.25 L989.17,445.72 L989.61,446.19 L990.05,446.66 L990.49,447.13 L990.93,447.60 L991.37,448.07 L991.81,448.54 L992.24,449.01 L992.68,449.48 L993.11,449.95 L993.54,450.43 L993.98,450.90 L994.41,451.37 L994.83,451.84 L995.26,452.31 L995.69,452.78 L996.11,453.25 L996.54,453.72 L996.96,454.19 L997.38,454.66 L997.81,455.13 L998.23,455.60 L998.64,456.07 L999.06,456.54 L999.48,457.01 L999.89,457.48 L1000.31,457.95 L1000.72,458.42 L1001.13,458.89 L1001.54,459.36 L1001.95,459.83 L1002.36,460.30 L1002.77,460.77 L1003.17,461.24 L1003.58,461.71 L1003.98,462.18 L1004.39,462.65 L1004.79,463.12 L1005.19,463.59 L1005.59,464.06 L1005.99,464.53 L1006.38,465.00 L1006.78,465.47 L1007.17,465.94 L1007.57,466.41 L1007.96,466.88 L1008.35,467.35 L1008.74,467.82 L1009.13,468.29 L1009.52,468.77 L1009.90,469.24 L1010.29,469.71 L1010.67,470.18 L1011.06,470.65 L1011.44,471.12 L1011.82,471.59 L1012.20,472.06 L1012.58,472.53 L1012.95,473.00 L1013.33,473.47 L1013.71,473.94 L1014.08,474.41 L1014.45,474.88 L1014.82,475.35 L1015.19,475.82 L1015.56,476.29 L1015.93,476.76 L1016.30,477.23 L1016.66,477.70 L1017.03,478.17 L1017.39,478.64 L1017.76,479.11 L1018.12,479.58 L1018.48,480.05 L1018.84,480.52 L1019.19,480.99 L1019.55,481.46 L1019.91,481.93 L1020.26,482.40 L1020.61,482.87 L1020.97,483.34 L1021.32,483.81 L1021.67,484.28 L1022.01,484.75 L1022.36,485.22 L1022.71,485.69 L1023.05,486.16 L1023.40,486.63 L1023.74,487.10 L1024.08,487.58 L1024.42,488.05 L1024.76,488.52 L1025.10,488.99 L1025.44,489.46 L1025.77,489.93 L1026.11,490.40 L1026.44,490.87 L1026.78,491.34 L1027.11,491.81 L1027.44,492.28 L1027.77,492.75 L1028.09,493.22 L1028.42,493.69 L1028.75,494.16 L1029.07,494.63 L1029.39,495.10 L1029.72,495.57 L1030.04,496.04 L1030.36,496.51 L1030.68,496.98 L1030.99,497.45 L1031.31,497.92 L1031.63,498.39 L1031.94,498.86 L1032.25,499.33 L1032.57,499.80 L1032.88,500.27 L1033.19,500.74 L1033.49,501.21 L1033.80,501.68 L1034.11,502.15 L1034.41,502.62 L1034.72,503.09 L1035.02,503.56 L1035.32,504.03 L1035.62,504.50 L1035.92,504.97 L1036.22,505.44 L1036.52,505.91 L1036.81,506.39 L1037.11,506.86 L1037.40,507.33 L1037.69,507.80 L1037.98,508.27 L1038.27,508.74 L1038.56,509.21 L1038.85,509.68 L1039.14,510.15 L1039.42,510.62 L1039.71,511.09 L1039.99,511.56 L1040.27,512.03 L1040.55,512.50 L1040.83,512.97 L1041.11,513.44 L1041.39,513.91 L1041.66,514.38 L1041.94,514.85 L1042.21,515.32 L1042.49,515.79 L1042.76,516.26 L1043.03,516.73 L1043.30,517.20 L1043.57,517.67 L1043.83,518.14 L1044.10,518.61 L1044.36,519.08 L1044.63,519.55 L1044.89,520.02 L1045.15,520.49 L1045.41,520.96 L1045.67,521.43 L1045.93,521.90 L1046.19,522.37 L1046.44,522.84 L1046.70,523.31 L1046.95,523.78 L1047.20,524.25 L1047.45,524.73 L1047.70,525.20 L1047.95,525.67 L1048.20,526.14 L1048.44,526.61 L1048.69,527.08 L1048.93,527.55 L1049.18,528.02 L1049.42,528.49 L1049.66,528.96 L1049.90,529.43 L1050.14,529.90 L1050.37,530.37 L1050.61,530.84 L1050.85,531.31 L1051.08,531.78 L1051.31,532.25 L1051.54,532.72 L1051.77,533.19 L1052.00,533.66 L1052.23,534.13 L1052.46,534.60 L1052.68,535.07 L1052.91,535.54 L1053.13,536.01 L1053.35,536.48 L1053.58,536.95 L1053.80,537.42 L1054.01,537.89 L1054.23,538.36 L1054.45,538.83 L1054.66,539.30 L1054.88,539.77 L1055.09,540.24 L1055.30,540.71 L1055.51,541.18 L1055.72,541.65 L1055.93,542.12 L1056.14,542.59 L1056.35,543.06 L1056.55,543.54 L1056.75,544.01 L1056.96,544.48 L1057.16,544.95 L1057.36,545.42 L1057.56,545.89 L1057.76,546.36 L1057.95,546.83 L1058.15,547.30 L1058.34,547.77 L1058.54,548.24 L1058.73,548.71 L1058.92,549.18 L1059.11,549.65 L1059.30,550.12 L1059.49,550.59 L1059.68,551.06 L1059.86,551.53 L1060.05,552.00 L1060.23,552.47 L1060.41,552.94 L1060.59,553.41 L1060.77,553.88 L1060.95,554.35 L1061.13,554.82 L1061.30,555.29 L1061.48,555.76 L1061.65,556.23 L1061.83,556.70 L1062.00,557.17 L1062.17,557.64 L1062.34,558.11 L1062.51,558.58 L1062.67,559.05 L1062.84,559.52 L1063.00,559.99 L1063.17,560.46 L1063.33,560.93 L1063.49,561.40 L1063.65,561.87 L1063.81,562.35 L1063.97,562.82 L1064.13,563.29 L1064.28,563.76 L1064.44,564.23 L1064.59,564.70 L1064.74,565.17 L1064.89,565.64 L1065.04,566.11 L1065.19,566.58 L1065.34,567.05 L1065.49,567.52 L1065.63,567.99 L1065.78,568.46 L1065.92,568.93 L1066.06,569.40 L1066.20,569.87 L1066.34,570.34 L1066.48,570.81 L1066.62,571.28 L1066.75,571.75 L1066.89,572.22 L1067.02,572.69 L1067.15,573.16 L1067.29,573.63 L1067.42,574.10 L1067.54,574.57 L1067.67,575.04 L1067.80,575.51 L1067.93,575.98 L1068.05,576.45 L1068.17,576.92 L1068.30,577.39 L1068.42,577.86 L1068.54,578.33 L1068.66,578.80 L1068.77,579.27 L1068.89,579.74 L1069.01,580.21 L1069.12,580.69 L1069.23,581.16 L1069.35,581.63 L1069.46,582.10 L1069.57,582.57 L1069.67,583.04 L1069.78,583.51 L1069.89,583.98 L1069.99,584.45 L1070.10,584.92 L1070.20,585.39 L1070.30,585.86 L1070.40,586.33 L1070.50,586.80 L1070.60,587.27 L1070.70,587.74 L1070.79,588.21 L1070.89,588.68 L1070.98,589.15 L1071.07,589.62 L1071.17,590.09 L1071.26,590.56 L1071.34,591.03 L1071.43,591.50 L1071.52,591.97 L1071.60,592.44 L1071.69,592.91 L1071.77,593.38 L1071.85,593.85 L1071.94,594.32 L1072.02,594.79 L1072.09,595.26 L1072.17,595.73 L1072.25,596.20 L1072.32,596.67 L1072.40,597.14 L1072.47,597.61 L1072.54,598.08 L1072.61,598.55 L1072.68,599.02 L1072.75,599.50 L1072.82,599.97 L1072.88,600.44 L1072.95,600.91 L1073.01,601.38 L1073.08,601.85 L1073.14,602.32 L1073.20,602.79 L1073.26,603.26 L1073.31,603.73 L1073.37,604.20 L1073.43,604.67 L1073.48,605.14 L1073.53,605.61 L1073.59,606.08 L1073.64,606.55 L1073.69,607.02 L1073.74,607.49 L1073.78,607.96 L1073.83,608.43 L1073.88,608.90 L1073.92,609.37 L1073.96,609.84 L1074.01,610.31 L1074.05,610.78 L1074.09,611.25 L1074.12,611.72 L1074.16,612.19 L1074.20,612.66 L1074.23,613.13 L1074.27,613.60 L1074.30,614.07 L1074.33,614.54 L1074.36,615.01 L1074.39,615.48 L1074.42,615.95 L1074.45,616.42 L1074.47,616.89 L1074.50,617.36 L1074.52,617.83 L1074.54,618.31 L1074.56,618.78 L1074.58,619.25 L1074.60,619.72 L1074.62,620.19 L1074.64,620.66 L1074.65,621.13 L1074.67,621.60 L1074.68,622.07 L1074.69,622.54 L1074.70,623.01 L1074.71,623.48 L1074.72,623.95 L1074.73,624.42 L1074.74,624.89 L1074.74,625.36 L1074.74,625.83 L1074.75,626.30 L1074.75,626.77 L1074.75,627.24" stroke="#2ca02c" stroke-width="4.80"/>
<path d="M160.30,33.89 L162.13,40.86 L163.96,47.61 L165.79,54.16 L167.62,60.53 L169.44,66.73 L171.27,72.78 L173.10,78.67 L174.93,84.44 L176.76,90.08 L178.59,95.60 L180.42,101.02 L182.25,106.33 L184.08,111.53 L185.90,116.63 L187.73,121.61 L189.56,126.49 L191.39,131.25 L193.22,135.90 L195.05,140.44 L196.88,144.87 L198.71,149.19 L200.54,153.41 L202.36,157.52 L204.19,161.53 L206.02,165.45 L207.85,169.26 L209.68,172.98 L211.51,176.61 L213.34,180.15 L215.17,183.60 L217.00,186.97 L218.82,190.25 L220.65,193.46 L222.48,196.58 L224.31,199.63 L226.14,202.61 L227.97,205.51 L229.80,208.36 L231.63,211.14 L233.46,213.86 L235.28,216.53 L237.11,219.13 L238.94,221.69 L240.77,224.19 L242.60,226.63 L244.43,229.03 L246.26,231.37 L248.09,233.66 L249.92,235.91 L251.75,238.10 L253.57,240.25 L255.40,242.35 L257.23,244.40 L259.06,246.41 L260.89,248.38 L262.72,250.30 L264.55,252.18 L266.38,254.01 L268.21,255.81 L270.03,257.56 L271.86,259.28 L273.69,260.96 L275.52,262.61 L277.35,264.21 L279.18,265.79 L281.01,267.33 L282.84,268.83 L284.67,270.31 L286.49,271.75 L288.32,273.16 L290.15,274.54 L291.98,275.89 L293.81,277.21 L295.64,278.51 L297.47,279.77 L299.30,281.02 L301.13,282.23 L302.95,283.42 L304.78,284.59 L306.61,285.73 L308.44,286.85 L310.27,287.95 L312.10,289.03 L313.93,290.08 L315.76,291.12 L317.59,292.13 L319.41,293.13 L321.24,294.10 L323.07,295.06 L324.90,296.00 L326.73,296.93 L328.56,297.83 L330.39,298.72 L332.22,299.59 L334.05,300.44 L335.87,301.28 L337.70,302.09 L339.53,302.90 L341.36,303.69 L343.19,304.47 L345.02,305.23 L346.85,305.98 L348.68,306.72 L350.51,307.46 L352.33,308.18 L354.16,308.89 L355.99,309.59 L357.82,310.29 L359.65,310.98 L361.48,311.66 L363.31,312.33 L365.14,313.00 L366.97,313.66 L368.79,314.31 L370.62,314.96 L372.45,315.60 L374.28,316.24 L376.11,316.87 L377.94,317.49 L379.77,318.11 L381.60,318.72 L383.43,319.33 L385.25,319.93 L387.08,320.52 L388.91,321.11 L390.74,321.69 L392.57,322.26 L394.40,322.83 L396.23,323.39 L398.06,323.95 L399.89,324.50 L401.71,325.04 L403.54,325.57 L405.37,326.10 L407.20,326.62 L409.03,327.14 L410.86,327.64 L412.69,328.15 L414.52,328.64 L416.35,329.13 L418.17,329.61 L420.00,330.09 L421.83,330.56 L423.66,331.03 L425.49,331.49 L427.32,331.94 L429.15,332.39 L430.98,332.83 L432.81,333.27 L434.63,333.70 L436.46,334.13 L438.29,334.56 L440.12,334.98 L441.95,335.39 L443.78,335.80 L445.61,336.21 L447.44,336.61 L449.27,337.01 L451.10,337.41 L452.92,337.80 L454.75,338.18 L456.58,338.56 L458.41,338.94 L460.24,339.32 L462.07,339.69 L463.90,340.06 L465.73,340.43 L467.56,340.79 L469.38,341.15 L471.21,341.50 L473.04,341.86 L474.87,342.21 L476.70,342.55 L478.53,342.90 L480.36,343.24 L482.19,343.58 L484.02,343.92 L485.84,344.26 L487.67,344.59 L489.50,344.92 L491.33,345.25 L493.16,345.57 L494.99,345.89 L496.82,346.22 L498.65,346.53 L500.48,346.85 L502.30,347.17 L504.13,347.48 L505.96,347.79 L507.79,348.10 L509.62,348.40 L511.45,348.71 L513.28,349.01 L515.11,349.31 L516.94,349.61 L518.76,349.91 L520.59,350.21 L522.42,350.50 L524.25,350.80 L526.08,351.09 L527.91,351.38 L529.74,351.67 L531.57,351.96 L533.40,352.24 L535.22,352.53 L537.05,352.81 L538.88,353.09 L540.71,353.37 L542.54,353.65 L544.37,353.93 L546.20,354.21 L548.03,354.49 L549.86,354.76 L551.68,355.04 L553.51,355.31 L555.34,355.58 L557.17,355.86 L559.00,356.13 L560.83,356.40 L562.66,356.66 L564.49,356.93 L566.32,357.20 L568.14,357.47 L569.97,357.73 L571.80,358.00 L573.63,358.26 L575.46,358.53 L577.29,358.79 L579.12,359.05 L580.95,359.31 L582.78,359.58 L584.60,359.84 L586.43,360.10 L588.26,360.36 L590.09,360.62 L591.92,360.88 L593.75,361.14 L595.58,361.39 L597.41,361.65 L599.24,361.91 L601.06,362.17 L602.89,362.42 L604.72,362.68 L606.55,362.93 L608.38,363.19 L610.21,363.45 L612.04,363.70 L613.87,363.95 L615.70,364.21 L617.52,364.46 L619.35,364.72 L621.18,364.97 L623.01,365.22 L624.84,365.47 L626.67,365.73 L628.50,365.98 L630.33,366.23 L632.16,366.48 L633.99,366.73 L635.81,366.99 L637.64,367.24 L639.47,367.49 L641.30,367.74 L643.13,367.99 L644.96,368.24 L646.79,368.49 L648.62,368.74 L650.45,369.00 L652.27,369.25 L654.10,369.50 L655.93,369.75 L657.76,370.00 L659.59,370.26 L661.42,370.51 L663.25,370.76 L665.08,371.02 L666.91,371.27 L668.73,371.53 L670.56,371.78 L672.39,372.04 L674.22,372.30 L676.05,372.56 L677.88,372.82 L679.71,373.08 L681.54,373.34 L683.37,373.60 L685.19,373.86 L687.02,374.13 L688.85,374.39 L690.68,374.66 L692.51,374.93 L694.34,375.20 L696.17,375.46 L698.00,375.73 L699.83,376.01 L701.65,376.28 L703.48,376.55 L705.31,376.82 L707.14,377.10 L708.97,377.37 L710.80,377.64 L712.63,377.92 L714.46,378.20 L716.29,378.47 L718.11,378.75 L719.94,379.03 L721.77,379.31 L723.60,379.58 L725.43,379.86 L727.26,380.14 L729.09,380.42 L730.92,380.70 L732.75,380.98 L734.57,381.26 L736.40,381.55 L738.23,381.83 L740.06,382.11 L741.89,382.39 L743.72,382.68 L745.55,382.96 L747.38,383.24 L749.21,383.53 L751.03,383.81 L752.86,384.10 L754.69,384.38 L756.52,384.67 L758.35,384.95 L760.18,385.24 L762.01,385.53 L763.84,385.81 L765.67,386.10 L767.49,386.39 L769.32,386.68 L771.15,386.97 L772.98,387.26 L774.81,387.55 L776.64,387.84 L778.47,388.13 L780.30,388.42 L782.13,388.72 L783.95,389.01 L785.78,389.31 L787.61,389.60 L789.44,389.90 L791.27,390.20 L793.10,390.50 L794.93,390.80 L796.76,391.11 L798.59,391.41 L800.41,391.71 L802.24,392.02 L804.07,392.33 L805.90,392.64 L807.73,392.95 L809.56,393.26 L811.39,393.57 L813.22,393.89 L815.05,394.21 L816.88,394.53 L818.70,394.85 L820.53,395.17 L822.36,395.50 L824.19,395.83 L826.02,396.16 L827.85,396.49 L829.68,396.83 L831.51,397.16 L833.34,397.51 L835.16,397.85 L836.99,398.20 L838.82,398.55 L840.65,398.90 L842.48,399.26 L844.31,399.62 L846.14,399.98 L847.97,400.35 L849.80,400.72 L851.62,401.09 L853.45,401.47 L855.28,401.85 L857.11,402.24 L858.94,402.63 L860.77,403.02 L862.60,403.42 L864.43,403.82 L866.26,404.23 L868.08,404.64 L869.91,405.06 L871.74,405.48 L873.57,405.91 L875.40,406.34 L877.23,406.78 L879.06,407.22 L880.89,407.67 L882.72,408.13 L884.54,408.59 L886.37,409.05 L888.20,409.53 L890.03,410.00 L891.86,410.49 L893.69,410.98 L895.52,411.48 L897.35,411.98 L899.18,412.48 L901.00,413.00 L902.83,413.51 L904.66,414.03 L906.49,414.55 L908.32,415.08 L910.15,415.61 L911.98,416.14 L913.81,416.68 L915.64,417.22 L917.46,417.77 L919.29,418.32 L921.12,418.87 L922.95,419.43 L924.78,420.00 L926.61,420.57 L928.44,421.15 L930.27,421.73 L932.10,422.33 L933.92,422.93 L935.75,423.54 L937.58,424.16 L939.41,424.80 L941.24,425.44 L943.07,426.10 L944.90,426.77 L946.73,427.45 L948.56,428.15 L950.38,428.87 L952.21,429.59 L954.04,430.34 L955.87,431.10 L957.70,431.87 L959.53,432.66 L961.36,433.45 L963.19,434.26 L965.02,435.09 L966.84,435.93 L968.67,436.78 L970.50,437.65 L972.33,438.54 L974.16,439.44 L975.99,440.36 L977.82,441.30 L979.65,442.25 L981.48,443.23 L983.31,444.22 L983.76,444.48 L984.22,444.73 L984.67,444.99 L985.13,445.24 L985.58,445.50 L986.03,445.75 L986.49,446.01 L986.94,446.27 L987.38,446.53 L987.83,446.79 L988.28,447.05 L988.72,447.32 L989.17,447.58 L989.61,447.84 L990.05,448.11 L990.49,448.38 L990.93,448.64 L991.37,448.91 L991.81,449.18 L992.24,449.46 L992.68,449.73 L993.11,450.00 L993.54,450.28 L993.98,450.55 L994.41,450.83 L994.83,451.11 L995.26,451.39 L995.69,451.67 L996.11,451.95 L996.54,452.23 L996.96,452.52 L997.38,452.80 L997.81,453.09 L998.23,453.38 L998.64,453.67 L999.06,453.96 L999.48,454.25 L999.89,454.55 L1000.31,454.84 L1000.72,455.14 L1001.13,455.44 L1001.54,455.74 L1001.95,456.04 L1002.36,456.34 L1002.77,456.64 L1003.17,456.95 L1003.58,457.26 L1003.98,457.56 L1004.39,457.87 L1004.79,458.19 L1005.19,458.50 L1005.59,458.81 L1005.99,459.13 L1006.38,459.45 L1006.78,459.77 L1007.17,460.09 L1007.57,460.41 L1007.96,460.73 L1008.35,461.06 L1008.74,461.38 L1009.13,461.71 L1009.52,462.04 L1009.90,462.38 L1010.29,462.71 L1010.67,463.04 L1011.06,463.38 L1011.44,463.72 L1011.82,464.06 L1012.20,464.40 L1012.58,464.75 L1012.95,465.09 L1013.33,465.44 L1013.71,465.79 L1014.08,466.14 L1014.45,466.49 L1014.82,466.85 L1015.19,467.20 L1015.56,467.56 L1015.93,467.92 L1016.30,468.29 L1016.66,468.65 L1017.03,469.02 L1017.39,469.38 L1017.76,469.75 L1018.12,470.13 L1018.48,470.50 L1018.84,470.87 L1019.19,471.25 L1019.55,471.63 L1019.91,472.01 L1020.26,472.40 L1020.61,472.78 L1020.97,473.17 L1021.32,473.56 L1021.67,473.96 L1022.01,474.35 L1022.36,474.75 L1022.71,475.15 L1023.05,475.55 L1023.40,475.95 L1023.74,476.36 L1024.08,476.77 L1024.42,477.18 L1024.76,477.59 L1025.10,478.01 L1025.44,478.42 L1025.77,478.84 L1026.11,479.26 L1026.44,479.69 L1026.78,480.12 L1027.11,480.55 L1027.44,480.98 L1027.77,481.41 L1028.09,481.85 L1028.42,482.29 L1028.75,482.73 L1029.07,483.17 L1029.39,483.62 L1029.72,484.07 L1030.04,484.52 L1030.36,484.97 L1030.68,485.43 L1030.99,485.88 L1031.31,486.34 L1031.63,486.81 L1031.94,487.27 L1032.25,487.74 L1032.57,488.21 L1032.88,488.68 L1033.19,489.15 L1033.49,489.62 L1033.80,490.10 L1034.11,490.58 L1034.41,491.06 L1034.72,491.55 L1035.02,492.03 L1035.32,492.52 L1035.62,493.01 L1035.92,493.50 L1036.22,494.00 L1036.52,494.49 L1036.81,494.99 L1037.11,495.49 L1037.40,496.00 L1037.69,496.50 L1037.98,497.01 L1038.27,497.52 L1038.56,498.03 L1038.85,498.54 L1039.14,499.05 L1039.42,499.57 L1039.71,500.09 L1039.99,500.60 L1040.27,501.12 L1040.55,501.65 L1040.83,502.17 L1041.11,502.70 L1041.39,503.22 L1041.66,503.75 L1041.94,504.28 L1042.21,504.81 L1042.49,505.34 L1042.76,505.88 L1043.03,506.41 L1043.30,506.95 L1043.57,507.49 L1043.83,508.02 L1044.10,508.56 L1044.36,509.10 L1044.63,509.64 L1044.89,510.19 L1045.15,510.73 L1045.41,511.27 L1045.67,511.82 L1045.93,512.36 L1046.19,512.91 L1046.44,513.45 L1046.70,514.00 L1046.95,514.55 L1047.20,515.10 L1047.45,515.64 L1047.70,516.19 L1047.95,516.74 L1048.20,517.29 L1048.44,517.84 L1048.69,518.39 L1048.93,518.94 L1049.18,519.50 L1049.42,520.05 L1049.66,520.60 L1049.90,521.15 L1050.14,521.71 L1050.37,522.26 L1050.61,522.82 L1050.85,523.38 L1051.08,523.93 L1051.31,524.49 L1051.54,525.05 L1051.77,525.61 L1052.00,526.17 L1052.23,526.74 L1052.46,527.30 L1052.68,527.86 L1052.91,528.43 L1053.13,529.00 L1053.35,529.57 L1053.58,530.14 L1053.80,530.71 L1054.01,531.28 L1054.23,531.86 L1054.45,532.43 L1054.66,533.01 L1054.88,533.59 L1055.09,534.17 L1055.30,534.75 L1055.51,535.34 L1055.72,535.92 L1055.93,536.51 L1056.14,537.09 L1056.35,537.68 L1056.55,538.27 L1056.75,538.86 L1056.96,539.45 L1057.16,540.04 L1057.36,540.64 L1057.56,541.23 L1057.76,541.82 L1057.95,542.42 L1058.15,543.02 L1058.34,543.61 L1058.54,544.21 L1058.73,544.81 L1058.92,545.41 L1059.11,546.01 L1059.30,546.61 L1059.49,547.21 L1059.68,547.81 L1059.86,548.41 L1060.05,549.01 L1060.23,549.62 L1060.41,550.22 L1060.59,550.82 L1060.77,551.43 L1060.95,552.03 L1061.13,552.63 L1061.30,553.24 L1061.48,553.84 L1061.65,554.45 L1061.83,555.05 L1062.00,555.66 L1062.17,556.26 L1062.34,556.87 L1062.51,557.47 L1062.67,558.08 L1062.84,558.68 L1063.00,559.28 L1063.17,559.89 L1063.33,560.49 L1063.49,561.09 L1063.65,561.70 L1063.81,562.30 L1063.97,562.90 L1064.13,563.50 L1064.28,564.10 L1064.44,564.70 L1064.59,565.30 L1064.74,565.90 L1064.89,566.49 L1065.04,567.09 L1065.19,567.69 L1065.34,568.28 L1065.49,568.87 L1065.63,569.47 L1065.78,570.06 L1065.92,570.65 L1066.06,571.23 L1066.20,571.82 L1066.34,572.41 L1066.48,572.99 L1066.62,573.57 L1066.75,574.16 L1066.89,574.74 L1067.02,575.31 L1067.15,575.89 L1067.29,576.46 L1067.42,577.04 L1067.54,577.61 L1067.67,578.18 L1067.80,578.74 L1067.93,579.31 L1068.05,579.87 L1068.17,580.43 L1068.30,580.99 L1068.42,581.55 L1068.54,582.10 L1068.66,582.66 L1068.77,583.21 L1068.89,583.75 L1069.01,584.30 L1069.12,584.84 L1069.23,585.38 L1069.35,585.92 L1069.46,586.45 L1069.57,586.99 L1069.67,587.52 L1069.78,588.05 L1069.89,588.57 L1069.99,589.10 L1070.10,589.62 L1070.20,590.14 L1070.30,590.65 L1070.40,591.17 L1070.50,591.68 L1070.60,592.18 L1070.70,592.69 L1070.79,593.19 L1070.89,593.70 L1070.98,594.19 L1071.07,594.69 L1071.17,595.18 L1071.26,595.67 L1071.34,596.16 L1071.43,596.65 L1071.52,597.13 L1071.60,597.61 L1071.69,598.09 L1071.77,598.57 L1071.85,599.04 L1071.94,599.51 L1072.02,599.98 L1072.09,600.44 L1072.17,600.90 L1072.25,601.36 L1072.32,601.82 L1072.40,602.27 L1072.47,602.73 L1072.54,603.17 L1072.61,603.62 L1072.68,604.06 L1072.75,604.50 L1072.82,604.94 L1072.88,605.38 L1072.95,605.81 L1073.01,606.24 L1073.08,606.67 L1073.14,607.09 L1073.20,607.52 L1073.26,607.94 L1073.31,608.35 L1073.37,608.77 L1073.43,609.18 L1073.48,609.59 L1073.53,610.00 L1073.59,610.41 L1073.64,610.81 L1073.69,611.22 L1073.74,611.62 L1073.78,612.02 L1073.83,612.41 L1073.88,612.81 L1073.92,613.20 L1073.96,613.59 L1074.01,613.98 L1074.05,614.37 L1074.09,614.76 L1074.12,615.14 L1074.16,615.53 L1074.20,615.91 L1074.23,616.29 L1074.27,616.67 L1074.30,617.05 L1074.33,617.42 L1074.36,617.80 L1074.39,618.17 L1074.42,618.54 L1074.45,618.92 L1074.47,619.29 L1074.50,619.66 L1074.52,620.03 L1074.54,620.39 L1074.56,620.76 L1074.58,621.13 L1074.60,621.49 L1074.62,621.86 L1074.64,622.22 L1074.65,622.58 L1074.67,622.95 L1074.68,623.31 L1074.69,623.67 L1074.70,624.03 L1074.71,624.39 L1074.72,624.75 L1074.73,625.11 L1074.74,625.47 L1074.74,625.83 L1074.74,626.19 L1074.75,626.55 L1074.75,626.91 L1074.75,627.27" stroke="#d62728" stroke-width="4.80"/>
</g>
<rect x="118.9" y="377.4" width="449.4" height="274.6" fill="#fff"/>
<rect x="137.7" y="380.0" width="414.3" height="269.70000000000005" fill="#fdbc7b"/>
<path d="M137.70,491.20 L139.76,491.76 L141.81,492.28 L143.87,492.76 L145.93,493.22 L147.99,493.66 L150.04,494.07 L152.10,494.47 L154.16,494.84 L156.22,495.18 L158.27,495.51 L160.33,495.82 L162.39,496.11 L164.45,496.38 L166.50,496.63 L168.56,496.87 L170.62,497.10 L172.68,497.31 L174.73,497.52 L176.79,497.71 L178.85,497.89 L180.91,498.06 L182.97,498.23 L185.02,498.38 L187.08,498.53 L189.14,498.67 L191.19,498.80 L193.25,498.92 L195.31,499.04 L197.37,499.15 L199.43,499.26 L201.48,499.36 L203.54,499.45 L205.60,499.54 L207.66,499.63 L209.71,499.71 L211.77,499.79 L213.83,499.86 L215.88,499.93 L217.94,500.00 L220.00,500.07 L222.06,500.13 L224.12,500.19 L226.17,500.25 L228.23,500.30 L230.29,500.36 L232.34,500.41 L234.40,500.46 L236.46,500.51 L238.52,500.56 L240.57,500.61 L242.63,500.66 L244.69,500.70 L246.75,500.75 L248.81,500.79 L250.86,500.83 L252.92,500.87 L254.98,500.91 L257.03,500.95 L259.09,500.99 L261.15,501.02 L263.21,501.06 L265.26,501.09 L267.32,501.13 L269.38,501.16 L271.44,501.19 L273.50,501.22 L275.55,501.25 L277.61,501.28 L279.67,501.31 L281.73,501.34 L283.78,501.36 L285.84,501.39 L287.90,501.42 L289.96,501.44 L292.01,501.47 L294.07,501.50 L296.13,501.52 L298.19,501.55 L300.24,501.57 L302.30,501.59 L304.36,501.62 L306.41,501.64 L308.47,501.66 L310.53,501.69 L312.59,501.71 L314.64,501.73 L316.70,501.75 L318.76,501.78 L320.82,501.80 L322.88,501.82 L324.93,501.84 L326.99,501.86 L329.05,501.88 L331.11,501.91 L333.16,501.93 L335.22,501.95 L337.28,501.97 L339.34,501.99 L341.39,502.01 L343.45,502.03 L345.51,502.05 L347.57,502.07 L349.62,502.09 L351.68,502.11 L353.74,502.13 L355.80,502.16 L357.85,502.18 L359.91,502.20 L361.97,502.22 L364.03,502.24 L366.08,502.26 L368.14,502.28 L370.20,502.30 L372.25,502.32 L374.31,502.34 L376.37,502.37 L378.43,502.39 L380.49,502.41 L382.54,502.43 L384.60,502.45 L386.66,502.48 L388.72,502.50 L390.77,502.52 L392.83,502.55 L394.89,502.57 L396.95,502.59 L399.00,502.61 L401.06,502.64 L403.12,502.66 L405.18,502.68 L407.23,502.71 L409.29,502.73 L411.35,502.75 L413.41,502.78 L415.46,502.80 L417.52,502.83 L419.58,502.85 L421.63,502.88 L423.69,502.90 L425.75,502.92 L427.81,502.95 L429.87,502.98 L431.92,503.00 L433.98,503.03 L436.04,503.05 L438.10,503.08 L440.15,503.11 L442.21,503.14 L444.27,503.17 L446.33,503.20 L448.38,503.23 L450.44,503.26 L452.50,503.29 L454.56,503.32 L456.61,503.36 L458.67,503.39 L460.73,503.43 L462.79,503.46 L464.84,503.50 L466.90,503.54 L468.96,503.58 L471.02,503.62 L473.07,503.66 L475.13,503.71 L477.19,503.75 L479.25,503.80 L481.30,503.84 L483.36,503.89 L485.42,503.94 L487.48,503.99 L489.53,504.04 L491.59,504.10 L493.65,504.15 L495.71,504.22 L497.76,504.28 L499.82,504.35 L501.88,504.42 L503.94,504.49 L505.99,504.56 L508.05,504.65 L509.09,504.69 L510.11,504.73 L511.12,504.77 L512.11,504.82 L513.09,504.86 L514.06,504.91 L515.02,504.96 L515.96,505.01 L516.89,505.06 L517.81,505.11 L518.71,505.16 L519.60,505.21 L520.48,505.27 L521.34,505.33 L522.19,505.38 L523.03,505.44 L523.85,505.50 L524.67,505.57 L525.46,505.63 L526.25,505.70 L527.02,505.77 L527.78,505.84 L528.52,505.91 L529.25,505.98 L529.97,506.06 L530.68,506.14 L531.37,506.22 L532.05,506.30 L532.72,506.38 L533.37,506.47 L534.01,506.55 L534.63,506.64 L535.25,506.73 L535.85,506.82 L536.43,506.91 L537.01,507.00 L537.57,507.09 L538.12,507.18 L538.65,507.27 L539.17,507.37 L539.68,507.46 L540.17,507.56 L540.65,507.65 L541.12,507.75 L541.58,507.85 L542.02,507.95 L542.45,508.05 L542.86,508.15 L543.27,508.25 L543.65,508.35 L544.03,508.45 L544.39,508.55 L544.74,508.65 L545.08,508.74 L545.40,508.84 L545.71,508.94 L546.01,509.03 L546.29,509.13 L546.56,509.22 L546.82,509.31 L547.06,509.39 L547.29,509.48 L547.51,509.56 L547.72,509.64 L547.91,509.72 L548.09,509.80 L548.25,509.87 L548.40,509.95 L548.54,510.02 L548.67,510.08 L548.78,510.15 L548.88,510.22 L548.96,510.28 L549.04,510.34 L549.09,510.40 L549.14,510.46 L549.17,510.52 L549.19,510.58 L549.20,510.64 L549.20,519.36 L549.19,519.42 L549.17,519.48 L549.14,519.54 L549.09,519.60 L549.04,519.66 L548.96,519.72 L548.88,519.78 L548.78,519.85 L548.67,519.92 L548.54,519.98 L548.40,520.05 L548.25,520.13 L548.09,520.20 L547.91,520.28 L547.72,520.36 L547.51,520.44 L547.29,520.52 L547.06,520.61 L546.82,520.69 L546.56,520.78 L546.29,520.87 L546.01,520.97 L545.71,521.06 L545.40,521.16 L545.08,521.26 L544.74,521.35 L544.39,521.45 L544.03,521.55 L543.65,521.65 L543.27,521.75 L542.86,521.85 L542.45,521.95 L542.02,522.05 L541.58,522.15 L541.12,522.25 L540.65,522.35 L540.17,522.44 L539.68,522.54 L539.17,522.63 L538.65,522.73 L538.12,522.82 L537.57,522.91 L537.01,523.00 L536.43,523.09 L535.85,523.18 L535.25,523.27 L534.63,523.36 L534.01,523.45 L533.37,523.53 L532.72,523.62 L532.05,523.70 L531.37,523.78 L530.68,523.86 L529.97,523.94 L529.25,524.02 L528.52,524.09 L527.78,524.16 L527.02,524.23 L526.25,524.30 L525.46,524.37 L524.67,524.43 L523.85,524.50 L523.03,524.56 L522.19,524.62 L521.34,524.67 L520.48,524.73 L519.60,524.79 L518.71,524.84 L517.81,524.89 L516.89,524.94 L515.96,524.99 L515.02,525.04 L514.06,525.09 L513.09,525.14 L512.11,525.18 L511.12,525.23 L510.11,525.27 L509.09,525.31 L508.05,525.35 L505.99,525.44 L503.94,525.51 L501.88,525.58 L499.82,525.65 L497.76,525.72 L495.71,525.78 L493.65,525.85 L491.59,525.90 L489.53,525.96 L487.48,526.01 L485.42,526.06 L483.36,526.11 L481.30,526.16 L479.25,526.20 L477.19,526.25 L475.13,526.29 L473.07,526.34 L471.02,526.38 L468.96,526.42 L466.90,526.46 L464.84,526.50 L462.79,526.54 L460.73,526.57 L458.67,526.61 L456.61,526.64 L454.56,526.68 L452.50,526.71 L450.44,526.74 L448.38,526.77 L446.33,526.80 L444.27,526.83 L442.21,526.86 L440.15,526.89 L438.10,526.92 L436.04,526.95 L433.98,526.97 L431.92,527.00 L429.87,527.02 L427.81,527.05 L425.75,527.08 L423.69,527.10 L421.63,527.12 L419.58,527.15 L417.52,527.17 L415.46,527.20 L413.41,527.22 L411.35,527.25 L409.29,527.27 L407.23,527.29 L405.18,527.32 L403.12,527.34 L401.06,527.36 L399.00,527.39 L396.95,527.41 L394.89,527.43 L392.83,527.45 L390.77,527.48 L388.72,527.50 L386.66,527.52 L384.60,527.55 L382.54,527.57 L380.49,527.59 L378.43,527.61 L376.37,527.63 L374.31,527.66 L372.25,527.68 L370.20,527.70 L368.14,527.72 L366.08,527.74 L364.03,527.76 L361.97,527.78 L359.91,527.80 L357.85,527.82 L355.80,527.84 L353.74,527.87 L351.68,527.89 L349.62,527.91 L347.57,527.93 L345.51,527.95 L343.45,527.97 L341.39,527.99 L339.34,528.01 L337.28,528.03 L335.22,528.05 L333.16,528.07 L331.11,528.09 L329.05,528.12 L326.99,528.14 L324.93,528.16 L322.88,528.18 L320.82,528.20 L318.76,528.22 L316.70,528.25 L314.64,528.27 L312.59,528.29 L310.53,528.31 L308.47,528.34 L306.41,528.36 L304.36,528.38 L302.30,528.41 L300.24,528.43 L298.19,528.45 L296.13,528.48 L294.07,528.50 L292.01,528.53 L289.96,528.56 L287.90,528.58 L285.84,528.61 L283.78,528.64 L281.73,528.66 L279.67,528.69 L277.61,528.72 L275.55,528.75 L273.50,528.78 L271.44,528.81 L269.38,528.84 L267.32,528.87 L265.26,528.91 L263.21,528.94 L261.15,528.98 L259.09,529.01 L257.03,529.05 L254.98,529.09 L252.92,529.13 L250.86,529.17 L248.81,529.21 L246.75,529.25 L244.69,529.30 L242.63,529.34 L240.57,529.39 L238.52,529.44 L236.46,529.49 L234.40,529.54 L232.34,529.59 L230.29,529.64 L228.23,529.70 L226.17,529.75 L224.12,529.81 L222.06,529.87 L220.00,529.93 L217.94,530.00 L215.88,530.07 L213.83,530.14 L211.77,530.21 L209.71,530.29 L207.66,530.37 L205.60,530.46 L203.54,530.55 L201.48,530.64 L199.43,530.74 L197.37,530.85 L195.31,530.96 L193.25,531.08 L191.19,531.20 L189.14,531.33 L187.08,531.47 L185.02,531.62 L182.97,531.77 L180.91,531.94 L178.85,532.11 L176.79,532.29 L174.73,532.48 L172.68,532.69 L170.62,532.90 L168.56,533.13 L166.50,533.37 L164.45,533.62 L162.39,533.89 L160.33,534.18 L158.27,534.49 L156.22,534.82 L154.16,535.16 L152.10,535.53 L150.04,535.93 L147.99,536.34 L145.93,536.78 L143.87,537.24 L141.81,537.72 L139.76,538.24 L137.70,538.80 Z" fill="#7db461" stroke="#63ab55" stroke-width="1.2" stroke-linejoin="round"/>
<rect x="137.7" y="491.20" width="3.0" height="47.6" fill="#52ad50"/>
<text x="345.1" y="453.5" font-size="20.3" text-anchor="middle" fill="#1a1208" stroke="#1a1208" stroke-width="0.3">EpoCore</text>
<text x="344.4" y="520.6" font-size="20.6" text-anchor="middle" fill="#0c1f0a" stroke="#0c1f0a" stroke-width="0.3">SiN</text>
<text transform="translate(135.3,427.4) rotate(-90)" font-size="13.6" fill="#222" stroke="#222" stroke-width="0.25">4.0 <tspan font-style="italic">μ</tspan>m</text>
<text transform="translate(129.8,541.2) rotate(-90)" font-size="13.6" fill="#111" stroke="#111" stroke-width="0.3">710 nm</text>
<text transform="translate(556.0,490.2) rotate(90)" font-size="13.8" fill="#111" stroke="#111" stroke-width="0.3">130 nm</text>
<path d="M133.6,492.6 V537.4 M130.6,497.8 L133.6,492.6 L136.6,497.8 M130.6,532.2 L133.6,537.4 L136.6,532.2" stroke="#140c14" stroke-width="1.4" fill="none" stroke-linecap="round" stroke-linejoin="round"/>
<path d="M549.3,492.3 V509.6 M546.5999999999999,504.8 L549.3,509.6 L552.0,504.8 M549.3,536.5 V520.8 M546.5999999999999,525.6 L549.3,520.8 L552.0,525.6" stroke="#140c14" stroke-width="1.4" fill="none" stroke-linecap="round" stroke-linejoin="round"/>
<rect x="115.0" y="3.9" width="1005.2" height="652.8000000000001" fill="none" stroke="#000" stroke-width="2.18"/>
<path d="M160.30,656.7 v10.60 M343.19,656.7 v10.60 M526.08,656.7 v10.60 M708.97,656.7 v10.60 M891.86,656.7 v10.60 M1074.75,656.7 v10.60 M115.0,555.63 h-10.60 M115.0,453.33 h-10.60 M115.0,351.03 h-10.60 M115.0,248.73 h-10.60 M115.0,146.43 h-10.60 M115.0,44.13 h-10.60" stroke="#000" stroke-width="2.18" fill="none"/>
<text x="160.00" y="700.2" font-size="30.0" text-anchor="middle">0</text>
<text x="342.89" y="700.2" font-size="30.0" text-anchor="middle">200</text>
<text x="525.78" y="700.2" font-size="30.0" text-anchor="middle">400</text>
<text x="708.67" y="700.2" font-size="30.0" text-anchor="middle">600</text>
<text x="891.56" y="700.2" font-size="30.0" text-anchor="middle">800</text>
<text x="1074.45" y="700.2" font-size="30.0" text-anchor="middle">1000</text>
<text x="93.4" y="566.63" font-size="30.0" text-anchor="end">0.2</text>
<text x="93.4" y="464.33" font-size="30.0" text-anchor="end">0.3</text>
<text x="93.4" y="362.03" font-size="30.0" text-anchor="end">0.4</text>
<text x="93.4" y="259.73" font-size="30.0" text-anchor="end">0.5</text>
<text x="93.4" y="157.43" font-size="30.0" text-anchor="end">0.6</text>
<text x="93.4" y="55.13" font-size="30.0" text-anchor="end">0.7</text>
<text x="617.60" y="743.4" font-size="30.0" text-anchor="middle" style="font-kerning:none">z-coordinate along the propagation direction [<tspan font-style="italic">μ</tspan>m]</text>
<text transform="translate(26.0,331.00) rotate(-90)" font-size="30.0" text-anchor="middle" style="font-kerning:none">Taper width [<tspan font-style="italic">μ</tspan>m]</text>
<rect x="777.3" y="18.2" width="326.9000000000001" height="183.4" rx="3.8" ry="3.8" fill="#fff" fill-opacity="0.8" stroke="#ccc" stroke-opacity="0.85" stroke-width="2.6"/>
<path d="M789.30,42.3 h60" stroke="#1f77b4" stroke-width="4.80" stroke-linecap="square"/>
<text x="873.90" y="53.80" font-size="30.0">Linear taper</text>
<path d="M789.30,86.3 h60" stroke="#ff7f0e" stroke-width="4.80" stroke-linecap="square"/>
<text x="873.90" y="97.80" font-size="30.0">Concave taper</text>
<path d="M789.30,130.2 h60" stroke="#2ca02c" stroke-width="4.80" stroke-linecap="square"/>
<text x="873.90" y="141.70" font-size="30.0">Convex taper</text>
<path d="M789.30,174.1 h60" stroke="#d62728" stroke-width="4.80" stroke-linecap="square"/>
<text x="873.90" y="185.60" font-size="30.0">Mono taper</text>
</svg>
</body></html>
